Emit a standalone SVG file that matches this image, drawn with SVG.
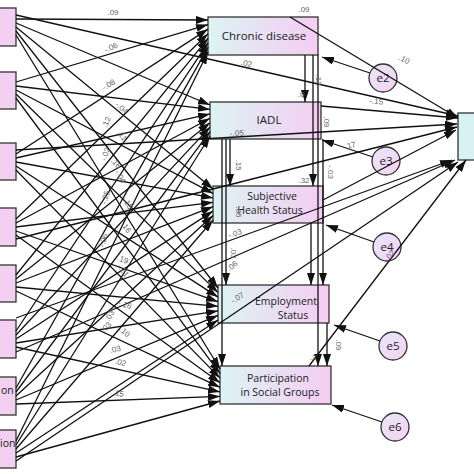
<svg xmlns="http://www.w3.org/2000/svg" width="474" height="474" viewBox="0 0 474 474">
<style>
.c{stroke:#111;stroke-width:1.3;fill:none;marker-end:url(#ah)}
.box{stroke:#333;stroke-width:1.3}
.lbox{fill:#f3d0f1;stroke:#333;stroke-width:1.3}
.t{font-family:"Open Sans","DejaVu Sans",sans-serif;font-size:11.5px;fill:#222;text-anchor:middle}
.t2{font-family:"Open Sans","DejaVu Sans",sans-serif;font-size:10.5px;fill:#222;text-anchor:middle}
.lt{font-family:"Open Sans","DejaVu Sans",sans-serif;font-size:10.5px;fill:#222;text-anchor:start}
.l{font-family:"Liberation Sans",Arial,sans-serif;font-size:8px;fill:#666;text-anchor:middle}
.lp{font-family:"Liberation Sans",Arial,sans-serif;font-size:8px;fill:#6a5a9a;text-anchor:middle}
.e{fill:url(#eg);stroke:#333;stroke-width:1.3}
</style>
<defs>
<linearGradient id="mg" x1="0" y1="0" x2="1" y2="0"><stop offset="0" stop-color="#dcf3f3"/><stop offset="1" stop-color="#f5cdf2"/></linearGradient>
<linearGradient id="eg" x1="0" y1="0" x2="1" y2="1"><stop offset="0" stop-color="#e6e6fa"/><stop offset="1" stop-color="#f6d2f1"/></linearGradient>
<marker id="ah" markerUnits="userSpaceOnUse" markerWidth="12" markerHeight="8" refX="12" refY="4" orient="auto"><path d="M0,0 L12,4 L0,8 z" fill="#111"/></marker>
</defs>
<rect width="474" height="474" fill="#fff"/>

<g id="L1"><rect class="lbox" x="-30" y="8" width="46" height="38"/></g>
<g id="L2"><rect class="lbox" x="-30" y="72" width="46" height="37"/></g>
<g id="L3"><rect class="lbox" x="-30" y="143" width="46" height="37"/></g>
<g id="L4"><rect class="lbox" x="-30" y="208" width="46" height="38"/></g>
<g id="L5"><rect class="lbox" x="-30" y="265" width="46" height="37"/></g>
<g id="L6"><rect class="lbox" x="-30" y="320" width="46" height="38"/></g>
<g id="L7"><rect class="lbox" x="-30" y="377" width="46" height="38"/><text class="lt" x="1" y="394">on</text></g>
<g id="L8"><rect class="lbox" x="-30" y="430" width="46" height="38"/><text class="lt" x="0" y="447">ion</text></g>

<g id="chronic"><rect class="box" x="208" y="17" width="110" height="38" fill="url(#mg)"/><text class="t" x="264" y="40">Chronic disease</text></g>
<g id="iadl"><rect class="box" x="210" y="102" width="111" height="37" fill="url(#mg)"/><text class="t" x="269" y="124">IADL</text></g>
<g id="shs"><rect class="box" x="213" y="186" width="110" height="37" fill="url(#mg)"/><text class="t2" x="272" y="200">Subjective</text><text class="t2" x="270" y="214">Health Status</text></g>
<g id="employment"><rect class="box" x="218" y="285" width="111" height="38" fill="url(#mg)"/><text class="t2" x="286" y="305">Employment</text><text class="t2" x="293" y="319">Status</text></g>
<g id="participation"><rect class="box" x="220" y="366" width="111" height="38" fill="url(#mg)"/><text class="t2" x="278" y="382">Participation</text><text class="t2" x="280" y="396">in Social Groups</text></g>
<g id="outcome"><rect class="box" x="458" y="113" width="30" height="47" fill="#d8f1f2"/></g>

<g id="e2"><circle class="e" cx="383" cy="78" r="14"/><text class="t" x="383" y="82">e2</text></g>
<g id="e3"><circle class="e" cx="386" cy="161" r="14"/><text class="t" x="386" y="165">e3</text></g>
<g id="e4"><circle class="e" cx="387" cy="247" r="14"/><text class="t" x="387" y="251">e4</text></g>
<g id="e5"><circle class="e" cx="393" cy="346" r="14"/><text class="t" x="393" y="350">e5</text></g>
<g id="e6"><circle class="e" cx="395" cy="427" r="14"/><text class="t" x="395" y="431">e6</text></g>

<g id="connectors">
<line class="c" x1="16" y1="19" x2="208" y2="20"/>
<line class="c" x1="16" y1="23" x2="210" y2="105"/>
<line class="c" x1="16" y1="27" x2="213" y2="189"/>
<line class="c" x1="16" y1="31" x2="218" y2="288"/>
<line class="c" x1="16" y1="35" x2="220" y2="369"/>
<line class="c" x1="16" y1="82" x2="208" y2="24.6"/>
<line class="c" x1="16" y1="86" x2="210" y2="109.4"/>
<line class="c" x1="16" y1="90" x2="213" y2="193.4"/>
<line class="c" x1="16" y1="94" x2="218" y2="292.6"/>
<line class="c" x1="16" y1="98" x2="220" y2="373.6"/>
<line class="c" x1="16" y1="154" x2="208" y2="29.1"/>
<line class="c" x1="16" y1="158" x2="210" y2="113.9"/>
<line class="c" x1="16" y1="162" x2="213" y2="197.9"/>
<line class="c" x1="16" y1="166" x2="218" y2="297.1"/>
<line class="c" x1="16" y1="170" x2="220" y2="378.1"/>
<line class="c" x1="16" y1="219" x2="208" y2="33.7"/>
<line class="c" x1="16" y1="223" x2="210" y2="118.3"/>
<line class="c" x1="16" y1="227" x2="213" y2="202.3"/>
<line class="c" x1="16" y1="231" x2="218" y2="301.7"/>
<line class="c" x1="16" y1="235" x2="220" y2="382.7"/>
<line class="c" x1="16" y1="275" x2="208" y2="38.3"/>
<line class="c" x1="16" y1="279" x2="210" y2="122.7"/>
<line class="c" x1="16" y1="283" x2="213" y2="206.7"/>
<line class="c" x1="16" y1="287" x2="218" y2="306.3"/>
<line class="c" x1="16" y1="291" x2="220" y2="387.3"/>
<line class="c" x1="16" y1="331" x2="208" y2="42.9"/>
<line class="c" x1="16" y1="335" x2="210" y2="127.1"/>
<line class="c" x1="16" y1="339" x2="213" y2="211.1"/>
<line class="c" x1="16" y1="343" x2="218" y2="310.9"/>
<line class="c" x1="16" y1="347" x2="220" y2="391.9"/>
<line class="c" x1="16" y1="388" x2="208" y2="47.4"/>
<line class="c" x1="16" y1="392" x2="210" y2="131.6"/>
<line class="c" x1="16" y1="396" x2="213" y2="215.6"/>
<line class="c" x1="16" y1="400" x2="218" y2="315.4"/>
<line class="c" x1="16" y1="404" x2="220" y2="396.4"/>
<line class="c" x1="16" y1="441" x2="208" y2="52"/>
<line class="c" x1="16" y1="445" x2="210" y2="136"/>
<line class="c" x1="16" y1="449" x2="213" y2="220"/>
<line class="c" x1="16" y1="453" x2="218" y2="320"/>
<line class="c" x1="16" y1="457" x2="220" y2="401"/>

<line class="c" x1="16" y1="15" x2="458" y2="116"/>
<line class="c" x1="16" y1="150" x2="457" y2="124"/>
<line class="c" x1="16" y1="239" x2="457" y2="127"/>
<line class="c" x1="16" y1="318" x2="452" y2="160"/>
<line class="c" x1="16" y1="352" x2="455" y2="160"/>
<line class="c" x1="16" y1="461" x2="458" y2="162"/>
<line class="c" x1="290" y1="17" x2="458" y2="118"/>
<line class="c" x1="321" y1="106" x2="458" y2="118"/>
<line class="c" x1="323" y1="200" x2="456" y2="130"/>
<line class="c" x1="309" y1="366" x2="466" y2="160"/>

<line class="c" x1="305" y1="55" x2="305" y2="102"/>
<line class="c" x1="313" y1="55" x2="313" y2="186"/>
<line class="c" x1="318" y1="55" x2="318" y2="366"/>
<line class="c" x1="323" y1="139" x2="323" y2="285"/>
<line class="c" x1="311" y1="223" x2="311" y2="285"/>
<line class="c" x1="327" y1="323" x2="327" y2="366"/>
<line class="c" x1="230" y1="139" x2="230" y2="186"/>
<line class="c" x1="226" y1="139" x2="226" y2="285"/>
<line class="c" x1="222" y1="139" x2="222" y2="366"/>

<line class="c" x1="370" y1="73" x2="322" y2="57"/>
<line class="c" x1="373" y1="157" x2="322" y2="140"/>
<line class="c" x1="374" y1="242" x2="326" y2="225"/>
<line class="c" x1="380" y1="341" x2="334" y2="325"/>
<line class="c" x1="382" y1="422" x2="332" y2="405"/>
</g>

<g id="labels">
<text class="l" x="113" y="15">.09</text>
<text class="l" transform="translate(112,50) rotate(-25)">-.06</text>
<text class="l" transform="translate(110,87) rotate(-30)">-.08</text>
<text class="l" transform="translate(120,110) rotate(40)">-.04</text>
<text class="l" transform="translate(109,123) rotate(-70)">.12</text>
<text class="l" transform="translate(120,137) rotate(60)">.11</text>
<text class="l" transform="translate(108,155) rotate(-70)">-.02</text>
<text class="l" transform="translate(114,165) rotate(50)">.16</text>
<text class="l" transform="translate(118,178) rotate(60)">-.04</text>
<text class="l" transform="translate(108,198) rotate(-75)">-.25</text>
<text class="l" transform="translate(125,204) rotate(60)">-.18</text>
<text class="l" transform="translate(124,229) rotate(55)">.16</text>
<text class="l" transform="translate(106,241) rotate(-75)">-.06</text>
<text class="l" transform="translate(122,262) rotate(20)">.19</text>
<text class="l" transform="translate(121,272) rotate(55)">-.21</text>
<text class="l" transform="translate(124,307) rotate(20)">-.16</text>
<text class="l" transform="translate(112,317) rotate(-60)">.03</text>
<text class="l" transform="translate(108,329) rotate(-45)">.03</text>
<text class="l" transform="translate(123,334) rotate(40)">.10</text>
<text class="l" transform="translate(116,352) rotate(-15)">.03</text>
<text class="l" transform="translate(120,365) rotate(15)">.02</text>
<text class="l" transform="translate(118,396) rotate(8)">.15</text>

<text class="l" transform="translate(246,66) rotate(12)">.02</text>
<text class="l" transform="translate(237,136) rotate(-3)">-.05</text>
<text class="l" transform="translate(236,165) rotate(90)">.15</text>
<text class="l" transform="translate(236,212) rotate(90)">.05</text>
<text class="l" transform="translate(236,236) rotate(-20)">-.03</text>
<text class="l" transform="translate(231,253) rotate(90)">.03</text>
<text class="l" transform="translate(234,268) rotate(-40)">.06</text>
<text class="l" transform="translate(239,300) rotate(-33)">-.07</text>
<text class="l" x="304" y="12">.09</text>
<text class="l" x="301" y="97">.0</text>
<text class="l" transform="translate(316,80) rotate(90)">.12</text>
<text class="l" transform="translate(324,122) rotate(90)">.09</text>
<text class="l" x="304" y="183">.32</text>
<text class="l" transform="translate(328,172) rotate(90)">-.03</text>
<text class="l" x="313" y="360">.2</text>
<text class="l" transform="translate(403,62) rotate(26)">.10</text>
<text class="l" transform="translate(376,104) rotate(5)">-.15</text>
<text class="l" transform="translate(351,148) rotate(-14)">.17</text>
<text class="lp" transform="translate(392,257) rotate(-52)">.02</text>
<text class="l" transform="translate(336,345) rotate(90)">.09</text>
</g>
</svg>
